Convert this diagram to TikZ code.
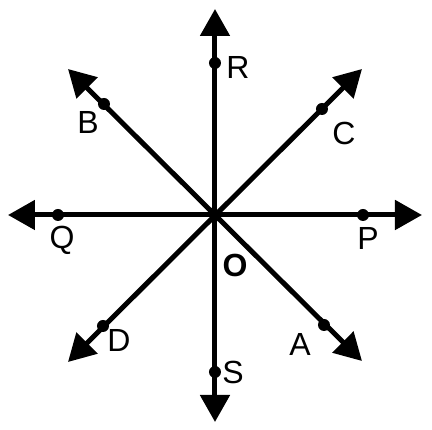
\documentclass[tikz,border=0pt]{standalone}
\usepackage{fontspec}
\setmainfont{Liberation Sans}
\usetikzlibrary{arrows.meta}
\tikzset{
  ray/.style={line width=5pt, {Triangle[length=27pt, width=29pt]}-{Triangle[length=27pt, width=29pt]}},
  dot/.style={circle, fill, inner sep=0pt, minimum size=12pt},
  lbl/.style={font=\fontsize{32}{38}\selectfont, inner sep=0pt}
}
\begin{document}
\begin{tikzpicture}[x=1pt, y=1pt]
\useasboundingbox (-215, -215) rectangle (217, 215);

\coordinate (o) at (0, 0);
\coordinate (east) at (207, 0);
\coordinate (west) at (-207, 0);
\coordinate (north) at (0, 206);
\coordinate (south) at (0, -207);
\coordinate (ne) at (147, 146);
\coordinate (sw) at (-147, -147);
\coordinate (nw) at (-147, 146);
\coordinate (se) at (147, -146);

\draw[ray] (west) -- (east);
\draw[ray] (south) -- (north);
\draw[ray] (sw) -- (ne);
\draw[ray] (nw) -- (se);

\node[dot] (r) at (0, 152) {};
\node[dot] (b) at (-111, 111) {};
\node[dot] (c) at (107, 106) {};
\node[dot] (q) at (-157, 0) {};
\node[dot] (p) at (148, 0) {};
\node[dot] (d) at (-112, -111) {};
\node[dot] (a) at (109, -110) {};
\node[dot] (s) at (0, -157) {};

\node[lbl] (rl) at (23, 148) {R};
\node[lbl] (bl) at (-127, 93) {B};
\node[lbl] (cl) at (129, 82) {C};
\node[lbl] (ql) at (-153, -25) {Q};
\node[lbl] (pl) at (153, -23) {P};
\node[lbl, font=\fontsize{32}{38}\selectfont\bfseries] (ol) at (20, -50) {O};
\node[lbl] (dl) at (-96, -125) {D};
\node[lbl] (al) at (85, -129) {A};
\node[lbl] (sl) at (18, -157) {S};

\end{tikzpicture}
\end{document}
